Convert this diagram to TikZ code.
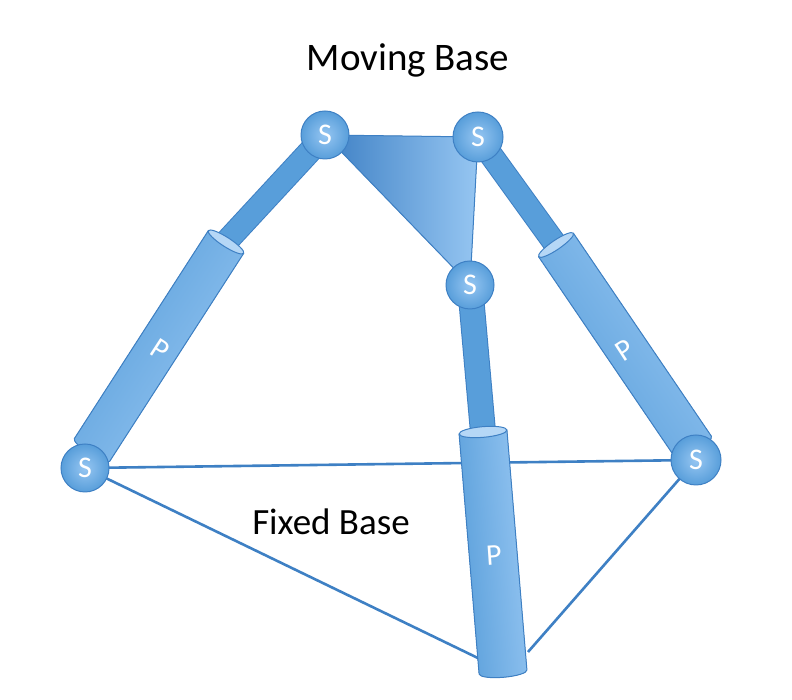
\documentclass[tikz,border=0pt]{standalone}
\usepackage{fontspec}
\setmainfont{Carlito}
\begin{document}
\definecolor{bfill}{RGB}{88,158,218}
\definecolor{blight}{RGB}{150,198,242}
\definecolor{bedge}{RGB}{62,128,196}
\newcommand{\mycyl}[5]{%
  \pgfmathsetmacro{\cdx}{#3-#1}\pgfmathsetmacro{\cdy}{#4-#2}%
  \pgfmathsetmacro{\cang}{atan2(\cdy,\cdx)}\pgfmathsetmacro{\clen}{veclen(\cdx,\cdy)}%
  \pgfmathsetmacro{\chw}{#5/2}\pgfmathsetmacro{\cer}{#5/9}%
  \begin{scope}[shift={(#1,#2)},rotate=\cang]
    \fill[left color=blight,right color=bfill,shading angle=\cang] (0,-\chw) -- (\clen,-\chw) arc(-90:90:\cer pt and \chw pt) -- (0,\chw) -- cycle;
    \draw[bedge,line width=1pt] (0,-\chw) -- (\clen,-\chw) arc(-90:90:\cer pt and \chw pt) -- (0,\chw);
    \draw[bedge,line width=1pt,fill=blight!70] (0,0) ellipse (\cer pt and \chw pt);
  \end{scope}}
\begin{tikzpicture}[x=1pt,y=1pt,
  sj/.style={circle,minimum size=#1,inner sep=0pt,draw=bedge,line width=1pt,inner color=blight,outer color=bfill,text=white,font=\fontsize{30}{30}\selectfont},
  lnk/.style={draw=bedge,line width=2.6pt},
  lbl/.style={text=white,font=\fontsize{30}{30}\selectfont}]
\useasboundingbox (0,0) rectangle (792,700);
\fill[white] (0,0) rectangle (792,700);
\coordinate (s1) at (325,565);
\coordinate (s2) at (478,563);
\coordinate (s3) at (470,415);
\coordinate (s4) at (85,232);
\coordinate (s5) at (696,240);
\coordinate (c1t) at (226,458); \coordinate (c1b) at (92,250);
\coordinate (c2t) at (556,455); \coordinate (c2b) at (694,252);
\coordinate (c3t) at (483,268); \coordinate (c3b) at (503,28);
% fixed base
\draw[lnk] (s4) -- (s5);
\draw[lnk] (s4) -- (482,40);
\draw[lnk] (s5) -- (528,48);
% moving base
\fill[left color=bedge,right color=blight,draw=bedge,line width=1pt] (s1) -- (s2) -- (s3) -- cycle;
% rods
\foreach \a/\b/\w in {s1/c1t/22,s2/c2t/22,s3/c3t/24}{
  \draw[line width=\w+2,bedge] (\a) -- (\b);
  \draw[line width=\w,bfill] (\a) -- (\b);}
% cylinders
\mycyl{226}{458}{92}{250}{42}
\mycyl{556}{455}{694}{252}{42}
\mycyl{483}{268}{503}{28}{48}
\node[lbl,rotate=-33] (p1) at (160,350) {P};
\node[lbl,rotate=33] (p2) at (625,350) {P};
\node[lbl,rotate=4] (p3) at (494,145) {P};
% joints
\node[sj=48] (j1) at (s1) {S};
\node[sj=50] (j2) at (s2) {S};
\node[sj=48] (j3) at (s3) {S};
\node[sj=48] (j4) at (s4) {S};
\node[sj=50] (j5) at (s5) {S};
\node[font=\fontsize{39}{39}\selectfont] (mb) at (408,640) {Moving Base};
\node[font=\fontsize{37}{37}\selectfont] (fb) at (331,178) {Fixed Base};
\end{tikzpicture}
\end{document}
